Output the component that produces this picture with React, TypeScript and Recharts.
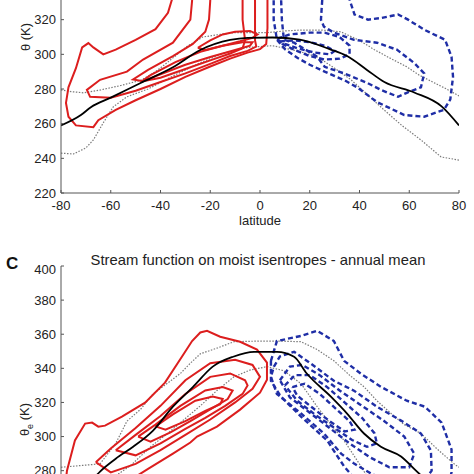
import React from 'react'
import { LineChart, Line, XAxis, YAxis } from 'recharts'

// [latitude, theta] pairs
type Pt = [number, number]

const LAT_TICKS = [-80, -60, -40, -20, 0, 20, 40, 60, 80]
const DRY_TICKS = [220, 240, 260, 280, 300, 320]
const MOIST_TICKS = [280, 300, 320, 340, 360, 380, 400]

// ---- dry isentropes panel ----
const dryMean: Pt[] = [
  [-80, 259], [-72, 265], [-68, 269.5], [-60, 275], [-48, 283.5], [-35, 292.5], [-24, 302.5],
  [-12, 308.3], [-5, 309.5], [5, 309.7], [16, 308.5], [28, 303], [35, 299], [43, 291],
  [50, 284], [62, 278], [73, 270], [80, 259],
]
const dryUpperDots: Pt[] = [
  [-80, 279.5], [-76, 278.5], [-71, 277.8], [-64, 279.5], [-56, 282], [-48, 285], [-42, 290],
  [-37.5, 295], [-29.5, 304.4], [-23, 310], [-16, 311.5], [-10.5, 312.5], [2.8, 312.5],
  [10, 313.5], [16.5, 314], [25, 314], [32.5, 313], [40, 308], [46, 302.7], [52, 298],
  [59, 292.8], [64, 288], [70, 283.6], [75, 280], [80, 276],
]
const dryLowerDots: Pt[] = [
  [-80, 243], [-75, 242.5], [-70, 246], [-67, 250.6], [-63, 260.5], [-59, 269.7], [-53.5, 275.5],
  [-45, 280], [-35, 287.5], [-25, 294.5], [-15, 300.5], [-5, 304], [5, 305], [15, 302],
  [23, 298.6], [30, 292], [36.6, 285.3], [43, 277], [49.8, 268], [57, 259], [64.7, 250.6],
  [72.8, 240.8], [80, 239],
]
const dryRed1: Pt[] = [
  [-35, 345], [-35.4, 331.6], [-37, 324], [-42, 314.5], [-50, 308.4], [-58, 302.7], [-63, 300],
  [-67, 304], [-69, 306.5], [-71.5, 304], [-74, 292], [-77, 281], [-78, 272], [-77, 264],
  [-74, 259], [-67, 258], [-65, 262], [-58, 268], [-50, 273.5], [-40, 280], [-30, 287],
  [-20, 293], [-12, 297.5], [-5, 301], [0, 303], [2.5, 306], [3, 315], [3, 330], [3, 345],
]
const dryRed2: Pt[] = [
  [-27.3, 345], [-27.3, 331], [-28, 320], [-35, 306.7], [-47, 297], [-53.5, 290], [-64.3, 285.3],
  [-69.6, 279.5], [-68.3, 275.5], [-60, 275], [-50, 279], [-40, 284], [-30, 289], [-20, 294.5],
  [-12, 299], [-5, 302], [-1.5, 304.5], [-2, 308], [-2, 320], [-2, 345],
]
const dryRed3: Pt[] = [
  [-20, 345], [-20, 331], [-20.5, 320], [-22, 313], [-27, 306], [-35, 299], [-45, 291],
  [-51, 285.5], [-47, 284.5], [-40, 286.5], [-30, 291.5], [-20, 296.5], [-12, 300.5],
  [-7, 303.5], [-6, 308], [-7, 320], [-7, 345],
]
const dryRed4: Pt[] = [
  [-48, 284], [-40, 288.5], [-30, 294], [-20, 298.5], [-10, 302.5], [-4, 305], [-3, 307],
  [-7, 307], [-15, 305], [-24, 301.5], [-34, 295.5], [-44, 288], [-48, 284],
]
const dryRed5: Pt[] = [
  [-25, 303.8], [-20, 308], [-15, 311.5], [-10, 313], [-4, 313.5], [-1, 311.5], [-3, 309.5],
  [-8, 307.5], [-15, 305], [-22, 302.5], [-25, 303.8],
]
const dryBlue1: Pt[] = [
  [5.5, 345], [5.5, 331], [5.5, 320], [6.8, 308.4], [10, 303], [15, 298], [20, 294], [26, 290],
  [34, 285], [39, 281], [47, 272.5], [58, 265], [66, 264], [74, 268], [76.5, 274], [77.6, 287],
  [77, 298.6], [74.4, 308.4], [66.3, 314], [59.5, 320], [55.5, 323], [49, 321], [43.4, 320],
  [38, 323], [36, 331.6], [36, 345],
]
const dryBlue2: Pt[] = [
  [8.5, 345], [8.5, 331], [8.8, 320], [9.6, 308.4], [13.7, 306.7], [23, 298.6], [26, 292.8],
  [33.8, 289], [43, 283.6], [48.6, 279.5], [55.5, 275.5], [59, 277.8], [64.7, 281], [66, 289],
  [62, 295], [55, 302.7], [47, 306.7], [37.8, 308.4], [29.7, 312.5], [25.7, 316], [24.5, 320],
  [25, 331], [25, 345],
]
const dryBlue3: Pt[] = [
  [7, 309], [12, 311.5], [20, 312.5], [26, 312.5], [32, 310], [36, 305], [36, 300], [32, 297.5],
  [26, 297], [20, 299], [14, 302.5], [9, 306], [7, 309],
]
const dryBlue4: Pt[] = [
  [8, 307.5], [14, 308], [20, 307], [26, 305], [30, 302], [28, 300], [22, 301], [15, 303.5],
  [10, 306], [8, 307.5],
]

// ---- moist isentropes panel ----
const moistMean: Pt[] = [
  [-75, 262], [-70, 270], [-64.3, 279.5], [-58, 287], [-51, 294], [-43, 303.5], [-35, 317.5],
  [-27, 329], [-19, 341], [-10.8, 346.8], [-2.4, 349.7], [6.8, 349.7], [13.7, 346.8],
  [18.9, 336.8], [28.5, 323.4], [35, 313.5], [41.8, 301.8], [48.6, 294], [56.7, 288.3],
  [62.7, 280], [70, 270], [75, 262],
]
const moistUpperDots: Pt[] = [
  [-80, 282], [-72, 283], [-64.3, 284], [-58, 296], [-53.5, 309], [-48, 316], [-43, 325],
  [-37, 331.5], [-32, 337], [-28, 343], [-24, 348.5], [-17, 352], [-10.5, 355.6], [0, 356],
  [6.8, 356], [16.5, 355.6], [23, 351], [29.7, 344.4], [36, 336], [41.8, 329.2], [47, 321],
  [52.7, 313.5], [58, 307], [64.7, 301.8], [71, 293], [78, 284], [80, 282],
]
const moistLowerDots: Pt[] = [
  [-60, 275], [-52, 283], [-44, 294], [-37, 302], [-31, 309.4], [-24, 318], [-17.3, 327],
  [-10.5, 335], [-4, 339], [2.8, 341], [9.6, 338.6], [16.5, 331], [23, 317.5], [28, 308],
  [33.8, 297.7], [40.6, 282.5], [45, 272], [50, 262],
]
const moistRed1: Pt[] = [
  [-78, 275], [-77.6, 280], [-74.4, 297.7], [-70.3, 307.6], [-67.5, 308.2], [-65, 305.8],
  [-62.3, 306.4], [-55.5, 311.7], [-46.2, 319.9], [-38.2, 331.6], [-31.4, 346.8], [-27.3, 356],
  [-24, 361], [-21.3, 362], [-16, 358.5], [-8, 355.6], [-1.2, 351], [2.8, 343.3], [2.8, 333.3],
  [0, 325.7], [-8, 315.8], [-17.3, 305.8], [-25.3, 300], [-28, 296.5], [-35, 290], [-45, 281],
  [-55, 272], [-65, 266], [-75, 266], [-78, 275],
]
const moistRed2: Pt[] = [
  [-66, 285], [-60, 293], [-50, 305], [-40, 318], [-30, 333], [-20, 343], [-10, 345], [-3, 342],
  [0, 335], [-3, 328], [-10, 320], [-20, 310], [-30, 301], [-40, 292], [-50, 284], [-60, 279],
  [-66, 285],
]
const moistRed3: Pt[] = [
  [-58, 292], [-50, 301], [-40, 312], [-30, 325], [-20, 335], [-12, 337], [-6, 333], [-5, 330],
  [-7, 325], [-14, 318], [-22, 311], [-30, 304.5], [-40, 296], [-50, 289], [-58, 292],
]
const moistRed4: Pt[] = [
  [-49, 300], [-42, 307], [-32, 318], [-22, 327], [-15, 329], [-11, 327], [-13, 322], [-20, 316],
  [-28, 309], [-36, 302.5], [-44, 297], [-49, 300],
]
const moistRed5: Pt[] = [
  [-42, 306], [-35, 313], [-26, 321], [-19, 323.5], [-15, 322], [-16, 319], [-22, 315],
  [-30, 309], [-38, 304], [-42, 306],
]
const moistBlue1: Pt[] = [
  [4.4, 344.4], [6.8, 356], [16.5, 359], [23, 362], [29.7, 356], [33.8, 344.4], [40.6, 336.8],
  [48.6, 329.2], [59, 321], [66.3, 317.5], [73, 308.2], [77, 292.4], [77, 279], [75, 268],
  [65, 262], [50, 265], [40, 272], [33.8, 282.5], [27, 297.7], [16.5, 311.7], [8.4, 323.4],
  [4.4, 332.7], [4.4, 344.4],
]
const moistBlue2: Pt[] = [
  [5.6, 341], [8, 347], [13.7, 349.7], [20.5, 342.7], [29.7, 332.7], [37.8, 326.9], [47, 317.5],
  [56.7, 309.4], [64.7, 301.8], [68.7, 291.8], [69, 280], [65, 272], [55, 272], [45, 278],
  [38, 284], [32.6, 290], [25.7, 301.8], [16.5, 313.5], [6.8, 325], [4.4, 335], [5.6, 341],
]
const moistBlue3: Pt[] = [
  [8, 333], [12, 341], [17, 342], [24, 336], [32, 327], [40, 319], [50, 309], [58, 300],
  [62, 290], [60, 282], [52, 282], [44, 288], [36, 296], [28, 305], [20, 314], [12, 323], [8, 333],
]
const moistBlue4: Pt[] = [
  [10, 330], [14, 336], [20, 336], [27, 329], [34, 320], [41, 311], [46, 302], [47, 296],
  [43, 294], [37, 298], [30, 305], [22, 313], [15, 321], [10, 330],
]
const moistBlue5: Pt[] = [
  [13, 329], [18, 331], [24, 325], [30, 317], [36, 309], [38, 304], [34, 303], [28, 309],
  [21, 317], [15, 324], [13, 329],
]

const FONT = '"Liberation Sans", Arial, Helvetica, sans-serif'
const RED = '#dc1e1e'
const BLUE = '#1f2ea6'
const AXIS = '#555'

const toRows = (pts: Pt[]) => pts.map(([lat, th]) => ({ lat, th }))

const ThetaELabel = ({ viewBox }: any) => {
  const cx = 24
  const cy = viewBox.y + viewBox.height / 2
  return (
    <text
      x={cx}
      y={cy}
      transform={`rotate(-90 ${cx} ${cy})`}
      textAnchor="middle"
      dy="0.35em"
      fontSize={13}
      fill="#222"
      fontFamily={FONT}
    >
      θ<tspan fontSize={9} dy={4}>e</tspan>
      <tspan dy={-4}> (K)</tspan>
    </text>
  )
}

interface PanelProps {
  mean: Pt[]
  dots: Pt[][]
  reds: Pt[][]
  blues: Pt[][]
  top: number
  plotHeight: number
  yTicks: number[]
  yLabel: React.ReactNode
  showLatAxis: boolean
}

const Panel: React.FC<PanelProps> = ({ mean, dots, reds, blues, top, plotHeight, yTicks, yLabel, showLatAxis }) => {
  const margin = { top: 5, right: 15, bottom: 0, left: 0 }
  const axisH = showLatAxis ? 38 : 0
  const tick = { fontSize: 13, fill: '#222', fontFamily: FONT }
  return (
    <div style={{ position: 'absolute', left: 0, top: top - margin.top }}>
      <LineChart width={474} height={margin.top + plotHeight + axisH} margin={margin}>
        <XAxis
          type="number"
          dataKey="lat"
          domain={[-80, 80]}
          ticks={LAT_TICKS}
          allowDataOverflow
          hide={!showLatAxis}
          height={axisH}
          stroke={AXIS}
          tickSize={-3}
          tickMargin={11}
          tick={tick}
          label={showLatAxis ? { value: 'latitude', position: 'insideBottom', offset: 6, fontSize: 13, fill: '#222', fontFamily: FONT } : undefined}
        />
        <YAxis
          type="number"
          domain={[220, 400]}
          ticks={yTicks}
          allowDataOverflow
          width={61}
          stroke={AXIS}
          tickSize={-3}
          tickMargin={8}
          tick={tick}
          label={yLabel as any}
        />
        {dots.map((d, i) => (
          <Line key={`g${i}`} data={toRows(d)} dataKey="th" type="linear" stroke="#7a7a7a" strokeWidth={1.2}
            strokeDasharray="1.5 1.5" dot={false} activeDot={false} isAnimationActive={false} />
        ))}
        {reds.map((d, i) => (
          <Line key={`r${i}`} data={toRows(d)} dataKey="th" type="linear" stroke={RED} strokeWidth={2}
            dot={false} activeDot={false} isAnimationActive={false} />
        ))}
        {blues.map((d, i) => (
          <Line key={`b${i}`} data={toRows(d)} dataKey="th" type="linear" stroke={BLUE} strokeWidth={2.4}
            strokeDasharray="5 3" dot={false} activeDot={false} isAnimationActive={false} />
        ))}
        <Line data={toRows(mean)} dataKey="th" type="monotone" stroke="#000" strokeWidth={1.8}
          dot={false} activeDot={false} isAnimationActive={false} />
      </LineChart>
    </div>
  )
}

export default function App() {
  return (
    <div style={{ position: 'fixed', left: 0, top: 0, width: 474, height: 474, overflow: 'hidden', background: '#fff', fontFamily: FONT }}>
      <Panel
        mean={dryMean}
        dots={[dryUpperDots, dryLowerDots]}
        reds={[dryRed1, dryRed2, dryRed3, dryRed4, dryRed5]}
        blues={[dryBlue1, dryBlue2, dryBlue3, dryBlue4]}
        top={-119}
        plotHeight={312}
        yTicks={DRY_TICKS}
        yLabel={{ value: 'θ (K)', angle: -90, position: 'insideLeft', offset: 25, fontSize: 13, fill: '#222', fontFamily: FONT, style: { textAnchor: 'middle' } }}
        showLatAxis
      />
      <Panel
        mean={moistMean}
        dots={[moistUpperDots, moistLowerDots]}
        reds={[moistRed1, moistRed2, moistRed3, moistRed4, moistRed5]}
        blues={[moistBlue1, moistBlue2, moistBlue3, moistBlue4, moistBlue5]}
        top={266}
        plotHeight={307}
        yTicks={MOIST_TICKS}
        yLabel={<ThetaELabel />}
        showLatAxis={false}
      />
      <div style={{ position: 'absolute', left: 6, top: 254, fontSize: 17, fontWeight: 'bold', color: '#111' }}>C</div>
      <div style={{ position: 'absolute', left: 0, width: 516, top: 252, textAlign: 'center', fontSize: 14.8, color: '#222' }}>
        Stream function on moist isentropes - annual mean
      </div>
    </div>
  )
}
